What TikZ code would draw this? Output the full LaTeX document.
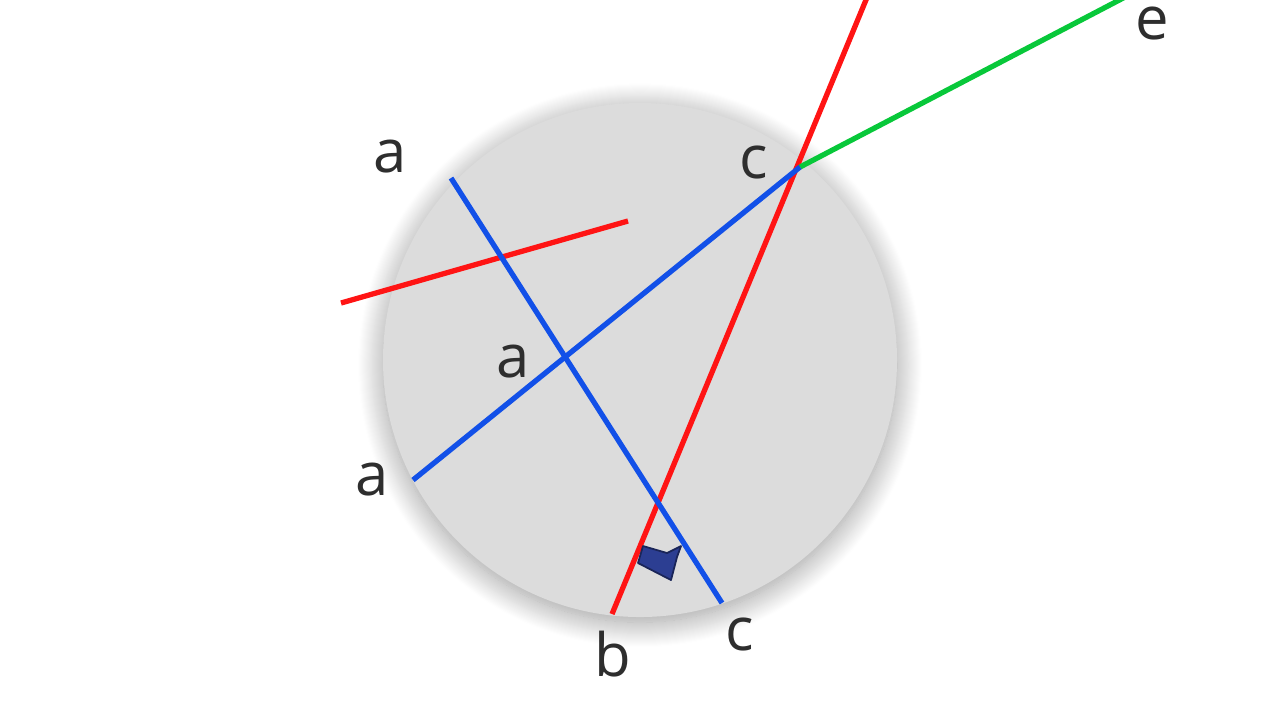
\documentclass[tikz,border=0pt]{standalone}
\usepackage{fontspec}
\setmainfont{Open Sans}
\usetikzlibrary{shadows.blur}
\definecolor{disc}{HTML}{DCDCDC}
\definecolor{bluel}{HTML}{1250E8}
\definecolor{redl}{HTML}{FF1414}
\definecolor{greenl}{HTML}{08C83A}
\definecolor{ink}{HTML}{2E2E2E}
\definecolor{markfill}{HTML}{2C3E92}
\begin{document}
\begin{tikzpicture}[x=0.01cm, y=-0.01cm,
bluel/.style={draw=bluel, line width=1.5pt},
redl/.style={draw=redl, line width=1.5pt},
greenl/.style={draw=greenl, line width=1.5pt},
lbl/.style={text=ink, font=\fontsize{17}{20}\selectfont, inner sep=0pt},
anglemark/.style={fill=markfill, draw=markfill!60!black, line width=0.5pt, line join=round},
]
\useasboundingbox (0,0) rectangle (1280,720);
% the disc
\fill[disc, blur shadow={shadow xshift=0pt, shadow yshift=-1.5pt, shadow blur radius=2.5mm, shadow blur steps=25, shadow opacity=40}] (640,360) circle (257);
% end points
\coordinate (A1) at (451,178);
\coordinate (C1) at (722,603);
\coordinate (A2) at (413,480);
\coordinate (C2) at (800,167);
\coordinate (R1) at (341,303);
\coordinate (R2) at (628,221);
\coordinate (B) at (612,614);
\coordinate (T) at (868,-5);
\coordinate (E) at (1127,-4);
% lines
\draw[redl] (R1) -- (R2);
\draw[redl] (B) -- (T);
\draw[greenl] (C2) -- (E);
\draw[bluel] (A1) -- (C1);
\draw[bluel] (A2) -- (C2);
% right angle mark
\draw[anglemark] (643,546) -- (667,553) -- (681,546) -- (677,557) -- (671,580) -- (638,563) -- cycle;
% labels
\node[lbl] (la1) at (390,157) {a};
\node[lbl] (lc1) at (754,162) {c};
\node[lbl] (le) at (1152,23) {e};
\node[lbl] (la2) at (513,362) {a};
\node[lbl] (la3) at (372,480) {a};
\node[lbl] (lb) at (613,654) {b};
\node[lbl] (lc2) at (740,634) {c};
\end{tikzpicture}
\end{document}
